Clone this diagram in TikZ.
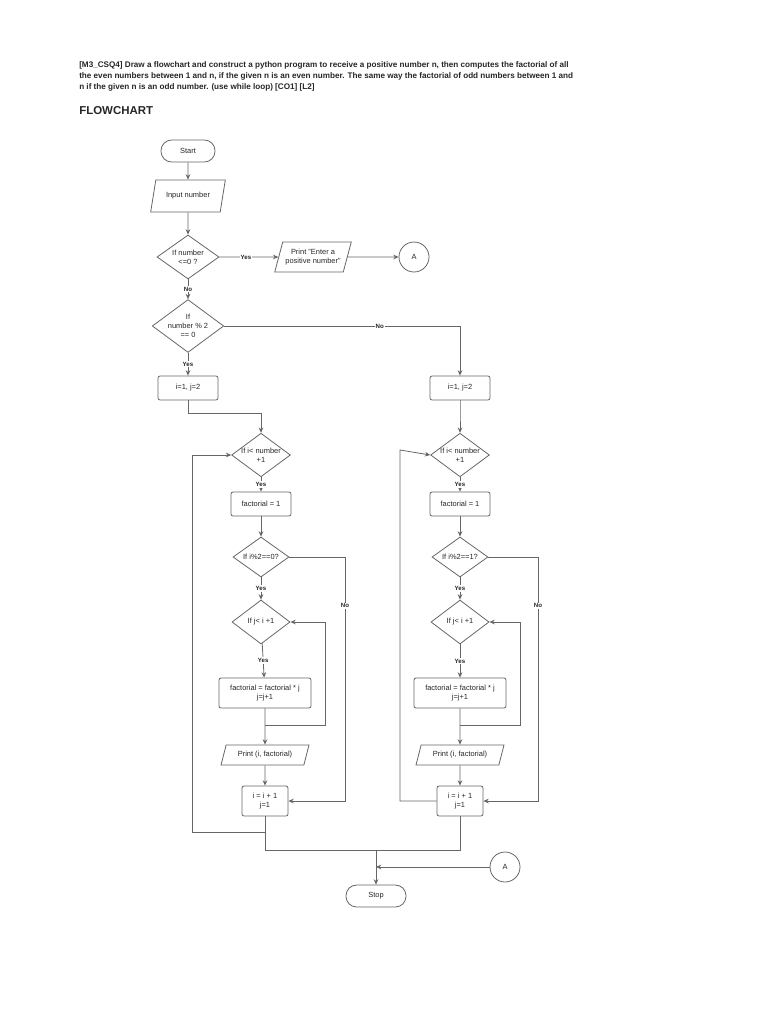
\documentclass[tikz,border=0pt]{standalone}
\usepackage{fontspec}
\setmainfont{Liberation Sans}
\usetikzlibrary{shapes.geometric,arrows.meta}
\tikzset{
  every node/.style={font=\fontsize{5.6}{6.6}\selectfont,text=black!85},
  line/.style={draw=black!60,line width=0.6pt},
  flow/.style={line,-{Stealth[length=4pt,width=3.5pt]}},
  term/.style={line,rounded corners=8pt,minimum width=40.5pt,minimum height=16.5pt},
  proc/.style={line,rounded corners=1.5pt,minimum height=18pt,align=center},
  io/.style={line,trapezium,trapezium left angle=72,trapezium right angle=108,
    trapezium stretches body,minimum height=15pt,align=center,inner xsep=2pt},
  cond/.style={line,diamond,aspect=1.35,inner sep=0pt,align=center},
  conn/.style={line,circle,minimum size=22.5pt,inner sep=0pt},
  lbl/.style={fill=white,inner sep=0.8pt,font=\fontsize{4.6}{5}\selectfont\bfseries}
}
\begin{document}
\begin{tikzpicture}[x=0.75pt,y=-0.75pt]
\useasboundingbox (0,0) rectangle (768,1024);
% heading
\node (task) [anchor=north west,align=left,inner sep=0pt,font=\fontsize{6.1}{8.2}\selectfont\bfseries]
  at (79,61) {[M3\_CSQ4] Draw a flowchart and construct a python program to receive a positive number n, then computes the factorial of all\\
  the even numbers between 1 and n, if the given n is an even number. The same way the factorial of odd numbers between 1 and\\
  n if the given n is an odd number. (use while loop) [CO1] [L2]};
\node (title) [anchor=west,inner sep=0pt,font=\fontsize{8.6}{10}\selectfont\bfseries] at (79,111) {FLOWCHART};
% main column
\node (start) [term] at (188,151) {Start};
\node (input) [io,minimum width=56pt,minimum height=24pt] at (188,196) {Input number};
\node (neg) [cond,minimum width=46.5pt,minimum height=33pt] at (188,257) {If number\\<=0 ?};
\node (msg) [io,minimum width=54pt,minimum height=22.5pt] at (313,257) {Print "Enter a\\positive number"};
\node (a1) [conn] at (414,257) {A};
\node (even) [cond,minimum width=46.5pt,minimum height=34.5pt] at (188,326) {If\\number \% 2\\== 0};
\node (initL) [proc,minimum width=45pt] at (188,388) {i=1, j=2};
\node (initR) [proc,minimum width=45pt] at (460,388) {i=1, j=2};
% left loop
\node (outL) [cond,minimum width=43.5pt,minimum height=30pt] at (261,455) {If i< number\\+1};
\node (facL) [proc,minimum width=45pt] at (261,504) {factorial = 1};
\node (parL) [cond,minimum width=42pt,minimum height=30pt] at (261,557) {If i\%2==0?};
\node (inL) [cond,minimum width=43.5pt,minimum height=33pt] at (261,622) {If j< i +1};
\node (mulL) [proc,minimum width=69pt,minimum height=22.5pt] at (265,693) {factorial = factorial * j\\j=j+1};
\node (prL) [io,minimum width=66pt] at (265,755) {Print (i, factorial)};
\node (incL) [proc,minimum width=34.5pt,minimum height=22.5pt] at (265,801) {i = i + 1\\j=1};
% right loop
\node (outR) [cond,minimum width=43.5pt,minimum height=30pt] at (460,455) {If i< number\\+1};
\node (facR) [proc,minimum width=45pt] at (460,504) {factorial = 1};
\node (parR) [cond,minimum width=42pt,minimum height=30pt] at (460,557) {If i\%2==1?};
\node (inR) [cond,minimum width=43.5pt,minimum height=33pt] at (460,622) {If j< i +1};
\node (mulR) [proc,minimum width=69pt,minimum height=22.5pt] at (460,693) {factorial = factorial * j\\j=j+1};
\node (prR) [io,minimum width=66pt] at (460,755) {Print (i, factorial)};
\node (incR) [proc,minimum width=34.5pt,minimum height=22.5pt] at (460,801) {i = i + 1\\j=1};
% end
\node (stop) [term,minimum width=45pt] at (376,896) {Stop};
\node (a2) [conn] at (505,867) {A};
\coordinate (join) at (376,850);

\draw[flow] (start) -- (input);
\draw[flow] (input) -- (neg);
\draw[flow] (neg) -- node[lbl,pos=0.45]{Yes} (msg);
\draw[flow] (msg) -- (a1);
\draw[flow] (neg) -- node[lbl,pos=0.5]{No} (even);
\draw[flow] (even) -- node[lbl,pos=0.5]{Yes} (initL);
\draw[flow] (even) -| node[lbl,pos=0.33]{No} (initR);

\draw[flow] (initL) |- (261,413) -- (outL);
\draw[flow] (outL) -- node[lbl,pos=0.5]{Yes} (facL);
\draw[flow] (facL) -- (parL);
\draw[flow] (parL) -- node[lbl,pos=0.5]{Yes} (inL);
\draw[flow] (inL) -- node[lbl,pos=0.5]{Yes} (mulL);
\draw[flow] (mulL) -- (prL);
\draw[flow] (265,725) -| (325,622) -- (inL.east);
\draw[flow] (prL) -- (incL);
\draw[flow] (parL.east) -| (345,801) node[lbl,pos=0.6]{No} -- (incL.east);
\draw[flow] (incL) |- (192,832) |- (outL.west);

\draw[flow] (initR) |- (460,413) -- (outR);
\draw[flow] (outR) -- node[lbl,pos=0.5]{Yes} (facR);
\draw[flow] (facR) -- (parR);
\draw[flow] (parR) -- node[lbl,pos=0.5]{Yes} (inR);
\draw[flow] (inR) -- node[lbl,pos=0.5]{Yes} (mulR);
\draw[flow] (mulR) -- (prR);
\draw[flow] (460,725) -| (520,622) -- (inR.east);
\draw[flow] (prR) -- (incR);
\draw[flow] (parR.east) -| (538,801) node[lbl,pos=0.6]{No} -- (incR.east);
\draw[flow] (incR.west) -| (400,450) -- (outR.west);

\draw[line] (incL) |- (join);
\draw[line] (incR) |- (join);
\draw[flow] (join) -- (stop);
\draw[flow] (a2) -- (376,867);
\end{tikzpicture}
\end{document}
